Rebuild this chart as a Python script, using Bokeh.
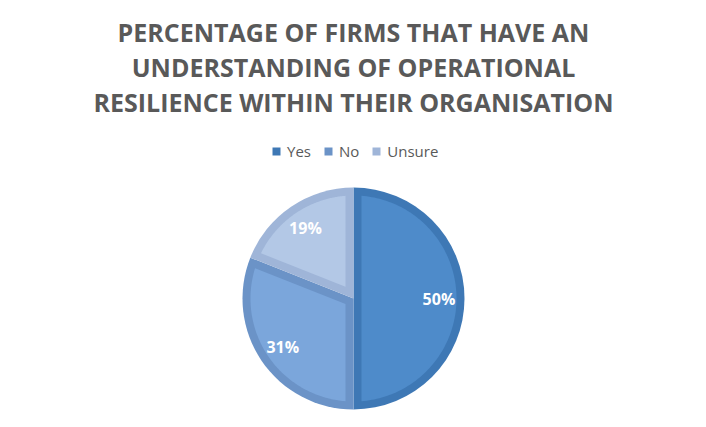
import numpy as np
from bokeh.plotting import figure
from bokeh.models import ColumnDataSource, Label, Legend, LegendItem
from bokeh.core.properties import value
from bokeh.embed import file_html
from bokeh.resources import INLINE

# ---- data ----
title_lines = ["PERCENTAGE OF FIRMS THAT HAVE AN",
               "UNDERSTANDING OF OPERATIONAL",
               "RESILIENCE WITHIN THEIR ORGANISATION"]
categories = ["Yes", "No", "Unsure"]
percents = [50, 31, 19]
fill_colors = ["#4e8bca", "#7ba6db", "#b3c8e6"]
edge_colors = ["#3e78b5", "#6b93c7", "#9fb5d8"]

W, H = 690, 411
CX, CY, R, BW = 353, 113, 111, 8

p = figure(width=W, height=H, x_range=(0, W), y_range=(0, H),
           output_backend="svg", toolbar_location=None, min_border=0,
           background_fill_color="white", border_fill_color="white")
p.axis.visible = False
p.grid.visible = False
p.outline_line_color = None

vals = np.array(percents, dtype=float)
frac = vals / vals.sum()
cum = np.cumsum(frac)
end_a = np.pi / 2 - np.concatenate([[0], cum[:-1]]) * 2 * np.pi
start_a = np.pi / 2 - cum * 2 * np.pi

src = ColumnDataSource(dict(cat=categories, start=start_a, end=end_a,
                            fill=fill_colors, edge=edge_colors))
outer = p.wedge(x=CX, y=CY, radius=R, start_angle="start", end_angle="end",
                fill_color="edge", line_color=None, source=src)

# inner (lighter) face of each slice, inset by the border width
xs, ys = [], []
rin = R - BW
dlt = np.arcsin(BW / rin)
for a0, a1 in zip(start_a, end_a):
    th = a1 - a0
    mid = (a0 + a1) / 2
    d = BW / np.sin(th / 2)
    t = np.linspace(a0 + dlt, a1 - dlt, 120)
    px = np.concatenate([[CX + d * np.cos(mid)], CX + rin * np.cos(t)])
    py = np.concatenate([[CY + d * np.sin(mid)], CY + rin * np.sin(t)])
    xs.append(list(px)); ys.append(list(py))
p.patches(xs=xs, ys=ys, fill_color=fill_colors, line_color=None)

# data labels
mid = (start_a + end_a) / 2
lr = 0.77 * R
lab = ColumnDataSource(dict(x=CX + lr * np.cos(mid), y=CY + lr * np.sin(mid),
                            t=[f"{v}%" for v in percents]))
p.text(x="x", y="y", text="t", source=lab, text_color="white",
       text_font=value("Open Sans"), text_font_style="bold",
       text_font_size="16px", text_align="center", text_baseline="middle")

# title
for i, line in enumerate(title_lines):
    p.add_layout(Label(x=W / 2 + 8, y=H - 31 - 35 * i, text=line, text_align="center",
                       text_baseline="alphabetic", text_color="#595959",
                       text_font="Open Sans", text_font_style="bold",
                       text_font_size="25px"))

# legend
items = [LegendItem(label=c, renderers=[outer], index=i) for i, c in enumerate(categories)]
leg = Legend(items=items, orientation="horizontal", location=(271, 250),
             padding=0, margin=0, spacing=12, label_standoff=6,
             glyph_width=10, glyph_height=10, label_height=20,
             label_text_font="Open Sans", label_text_font_size="15px",
             label_text_color="#595959", border_line_color=None,
             background_fill_alpha=0)
p.add_layout(leg, "center")

open("out.html", "w").write(file_html(p, INLINE))
